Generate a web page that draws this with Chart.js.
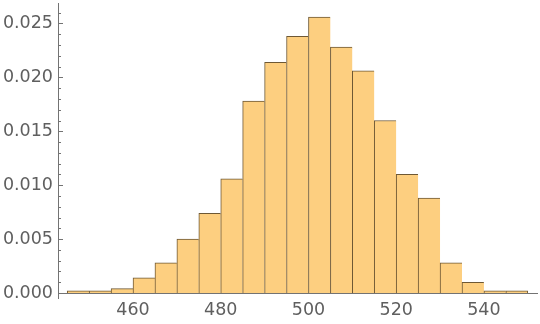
<!DOCTYPE html>
<html>
<head>
<meta charset="utf-8">
<script src="https://cdn.jsdelivr.net/npm/chart.js@4"></script>
<style>
  html, body { margin: 0; padding: 0; background: #fff; }
  #wrap { width: 540px; height: 324px; }
</style>
</head>
<body>
<div id="wrap"><canvas id="myChart" width="540" height="324"></canvas></div>
<script>
// histogram bins (width 5) and probability densities
const binStarts = [445, 450, 455, 460, 465, 470, 475, 480, 485, 490, 495,
                   500, 505, 510, 515, 520, 525, 530, 535, 540, 545];
const binWidth = 5;
const densities = [0.0002, 0.0002, 0.0004, 0.0014, 0.0028, 0.0050, 0.0074,
                   0.0106, 0.0178, 0.0214, 0.0238, 0.0256, 0.0228, 0.0206,
                   0.0160, 0.0110, 0.0088, 0.0028, 0.0010, 0.0002, 0.0002];
const xTicks = [460, 480, 500, 520, 540];
const yTicks = [0, 0.005, 0.010, 0.015, 0.020, 0.025];

const fillColor = "rgb(253, 207, 128)";
const edgeColor = "rgb(110, 88, 52)";
const axisColor = "#737373";
const textColor = "#5f5f5f";

const points = binStarts.map((s, i) => ({ x: s + binWidth / 2, y: densities[i] }));

// tick marks drawn inside the frame, Mathematica style
const frameTicks = {
    id: "frameTicks",
    afterDraw: (chart) => {
        const ctx = chart.ctx;
        const y = chart.scales.y;
        const area = chart.chartArea;
        ctx.save();
        ctx.strokeStyle = axisColor;
        ctx.lineWidth = 1;
        ctx.beginPath();
        for (let k = 0; k <= 26; k++) {
            const v = k / 1000;
            const py = Math.round(y.getPixelForValue(v)) + 0.5;
            const len = (k % 5 === 0) ? 5 : 3;
            ctx.moveTo(area.left, py);
            ctx.lineTo(area.left + len, py);
        }
        // y axis sticks out a bit below the x axis
        ctx.moveTo(area.left + 0.5, area.bottom);
        ctx.lineTo(area.left + 0.5, area.bottom + 6);
        ctx.stroke();
        ctx.restore();
    }
};

const config = {
    type: "bar",
    data: {
        datasets: [{
            data: points,
            backgroundColor: fillColor,
            borderColor: edgeColor,
            borderWidth: (c) => ({
                top: 1,
                left: 1,
                right: c.dataIndex === points.length - 1 ? 1 : 0,
                bottom: 0
            }),
            borderSkipped: false,
            barPercentage: 1,
            categoryPercentage: 1
        }]
    },
    options: {
        responsive: false,
        animation: false,
        layout: { padding: { top: 3, right: 3, left: 0, bottom: 0 } },
        plugins: {
            legend: { display: false },
            tooltip: { enabled: false }
        },
        scales: {
            x: {
                type: "linear",
                offset: false,
                min: 442.9,
                max: 552.1,
                afterBuildTicks: (scale) => {
                    scale.ticks = xTicks.map((v) => ({ value: v }));
                },
                ticks: {
                    color: textColor,
                    padding: 7,
                    maxRotation: 0,
                    font: { family: "DejaVu Sans", size: 17.5 },
                    callback: (v) => String(v)
                },
                grid: { display: false, drawTicks: false },
                border: { display: true, color: axisColor, width: 1 },
                afterFit: (scale) => {
                    scale.height = 31;
                    scale.paddingLeft = 0;
                    scale.paddingRight = 0;
                }
            },
            y: {
                min: 0,
                max: 0.0269,
                afterBuildTicks: (scale) => {
                    scale.ticks = yTicks.map((v) => ({ value: v }));
                },
                ticks: {
                    color: textColor,
                    padding: 5,
                    font: { family: "DejaVu Sans", size: 17.5 },
                    callback: (v) => v.toFixed(3)
                },
                grid: { display: false, drawTicks: false },
                border: { display: true, color: axisColor, width: 1 },
                afterFit: (scale) => {
                    scale.width = 58;
                    scale.paddingTop = 0;
                    scale.paddingBottom = 0;
                }
            }
        }
    },
    plugins: [frameTicks]
};

const ctx = document.querySelector("#myChart").getContext("2d");
new Chart(ctx, config);
</script>
</body>
</html>
